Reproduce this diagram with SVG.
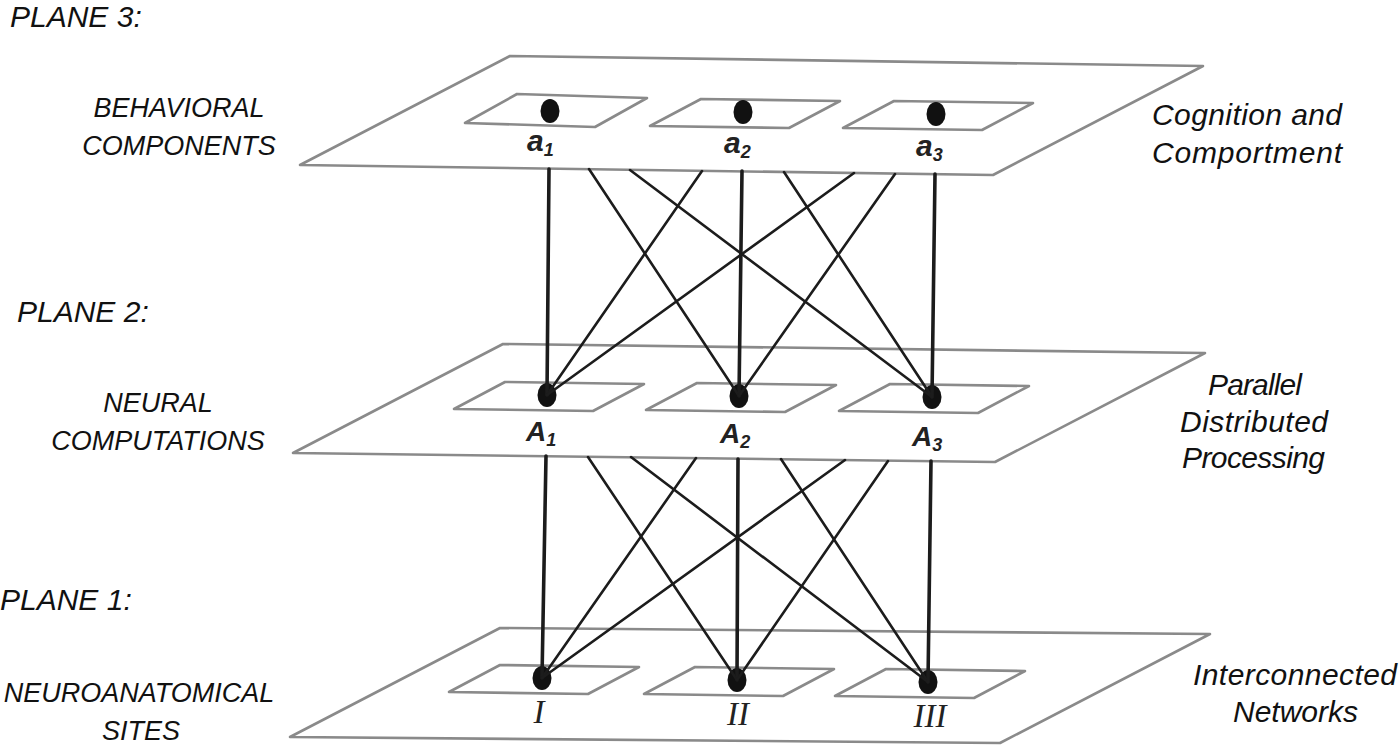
<svg xmlns="http://www.w3.org/2000/svg" width="1400" height="748" viewBox="0 0 1400 748">
<style>
.plane{fill:#ffffff;stroke:#8a8a8a;stroke-width:2.6;stroke-linejoin:round}
.sq{fill:none;stroke:#8a8a8a;stroke-width:2.6;stroke-linejoin:round}
.dot{fill:#111}
.side{font-family:"Liberation Sans",Arial,sans-serif;font-style:italic;fill:#111}
.plab{font-size:30px}
.llab{font-size:27px}
.rlab{font-size:30px}
.nlab{font-family:"Liberation Sans",Arial,sans-serif;font-style:italic;font-weight:bold;fill:#222}
.sml{font-size:30px}
.cap{font-size:28px}
.sub{font-size:18px}
.rom{font-family:"Liberation Serif","Times New Roman",serif;font-style:italic;font-size:33px;fill:#222}
.conn line{stroke:#1c1c1c;stroke-width:2.6;stroke-linecap:round}
.conn line.v{stroke-width:3.6}
</style>
<rect width="1400" height="748" fill="#ffffff"/>

<g id="plane1">
<path class="plane" d="M500,628 L1210,634 L1000,743 L290,737 Z"/>
<text class="side plab" x="0" y="610">PLANE 1:</text>
<text class="side llab" x="139" y="702" text-anchor="middle">NEUROANATOMICAL</text>
<text class="side llab" x="141" y="740" text-anchor="middle">SITES</text>
<text class="side rlab" x="1193" y="685" textLength="204" lengthAdjust="spacing">Interconnected</text>
<text class="side rlab" x="1233" y="722" textLength="125" lengthAdjust="spacing">Networks</text>
</g>
<g id="site1">
<path class="sq" d="M449,692 L500,665 L639,667 L588,694 Z"/>
<ellipse class="dot" cx="542" cy="678" rx="9.5" ry="12"/>
<text class="rom" x="539" y="723" text-anchor="middle">I</text>
</g>
<g id="site2">
<path class="sq" d="M644,694 L695,667 L834,669 L783,696 Z"/>
<ellipse class="dot" cx="737" cy="680" rx="9.5" ry="12"/>
<text class="rom" x="738" y="725" text-anchor="middle">II</text>
</g>
<g id="site3">
<path class="sq" d="M835,696 L886,669 L1025,671 L974,698 Z"/>
<ellipse class="dot" cx="928" cy="682" rx="9.5" ry="12"/>
<text class="rom" x="930" y="727" text-anchor="middle">III</text>
</g>

<g id="plane2">
<path class="plane" d="M503,344 L1205,353 L995,462 L293,453 Z"/>
<text class="side plab" x="17" y="322">PLANE 2:</text>
<text class="side llab" x="158" y="412" text-anchor="middle">NEURAL</text>
<text class="side llab" x="158" y="450" text-anchor="middle">COMPUTATIONS</text>
<text class="side rlab" x="1208" y="395" textLength="94" lengthAdjust="spacing">Parallel</text>
<text class="side rlab" x="1180" y="432" textLength="148" lengthAdjust="spacing">Distributed</text>
<text class="side rlab" x="1182" y="468" textLength="143" lengthAdjust="spacing">Processing</text>
</g>
<g id="A1">
<path class="sq" d="M454,409 L505,382 L644,384 L593,411 Z"/>
<ellipse class="dot" cx="547" cy="395" rx="9.5" ry="12"/>
<text class="nlab cap" x="526" y="441">A<tspan class="sub" dy="5">1</tspan></text>
</g>
<g id="A2">
<path class="sq" d="M646,410 L697,383 L836,385 L785,412 Z"/>
<ellipse class="dot" cx="739" cy="396" rx="9.5" ry="12"/>
<text class="nlab cap" x="720" y="443">A<tspan class="sub" dy="5">2</tspan></text>
</g>
<g id="A3">
<path class="sq" d="M839,411 L890,384 L1029,386 L978,413 Z"/>
<ellipse class="dot" cx="932" cy="397" rx="9.5" ry="12"/>
<text class="nlab cap" x="912" y="446">A<tspan class="sub" dy="5">3</tspan></text>
</g>

<g id="plane3">
<path class="plane" d="M510,56 L1203,66 L993,175 L300,165 Z"/>
<text class="side plab" x="10" y="27">PLANE 3:</text>
<text class="side llab" x="179" y="117" text-anchor="middle">BEHAVIORAL</text>
<text class="side llab" x="179" y="155" text-anchor="middle">COMPONENTS</text>
<text class="side rlab" x="1152" y="125" textLength="190" lengthAdjust="spacing">Cognition and</text>
<text class="side rlab" x="1152" y="163" textLength="190" lengthAdjust="spacing">Comportment</text>
</g>
<g id="a1">
<path class="sq" d="M465,123 L517,94 L647,98 L595,127 Z"/>
<ellipse class="dot" cx="550" cy="111" rx="9.5" ry="12"/>
<text class="nlab sml" x="527" y="151">a<tspan class="sub" dy="5">1</tspan></text>
</g>
<g id="a2">
<path class="sq" d="M650,126 L701,99 L840,101 L789,128 Z"/>
<ellipse class="dot" cx="743" cy="112" rx="9.5" ry="12"/>
<text class="nlab sml" x="724" y="153">a<tspan class="sub" dy="5">2</tspan></text>
</g>
<g id="a3">
<path class="sq" d="M843,128 L894,101 L1033,103 L982,130 Z"/>
<ellipse class="dot" cx="936" cy="114" rx="9.5" ry="12"/>
<text class="nlab sml" x="916" y="156">a<tspan class="sub" dy="5">3</tspan></text>
</g>

<g id="connectors" class="conn">
<line class="v" x1="549" y1="169" x2="547" y2="395"/>
<line x1="589" y1="169" x2="739" y2="396"/>
<line x1="630" y1="170" x2="932" y2="397"/>
<line x1="702" y1="171" x2="547" y2="395"/>
<line class="v" x1="742" y1="171" x2="739" y2="396"/>
<line x1="784" y1="172" x2="932" y2="397"/>
<line x1="854" y1="173" x2="547" y2="395"/>
<line x1="895" y1="174" x2="739" y2="396"/>
<line class="v" x1="935" y1="174" x2="932" y2="397"/>

<line class="v" x1="546" y1="456" x2="542" y2="678"/>
<line x1="588" y1="457" x2="737" y2="680"/>
<line x1="631" y1="457" x2="928" y2="682"/>
<line x1="696" y1="458" x2="542" y2="678"/>
<line class="v" x1="738" y1="459" x2="737" y2="680"/>
<line x1="781" y1="459" x2="928" y2="682"/>
<line x1="845" y1="460" x2="542" y2="678"/>
<line x1="888" y1="461" x2="737" y2="680"/>
<line class="v" x1="931" y1="461" x2="928" y2="682"/>
</g>
</svg>
